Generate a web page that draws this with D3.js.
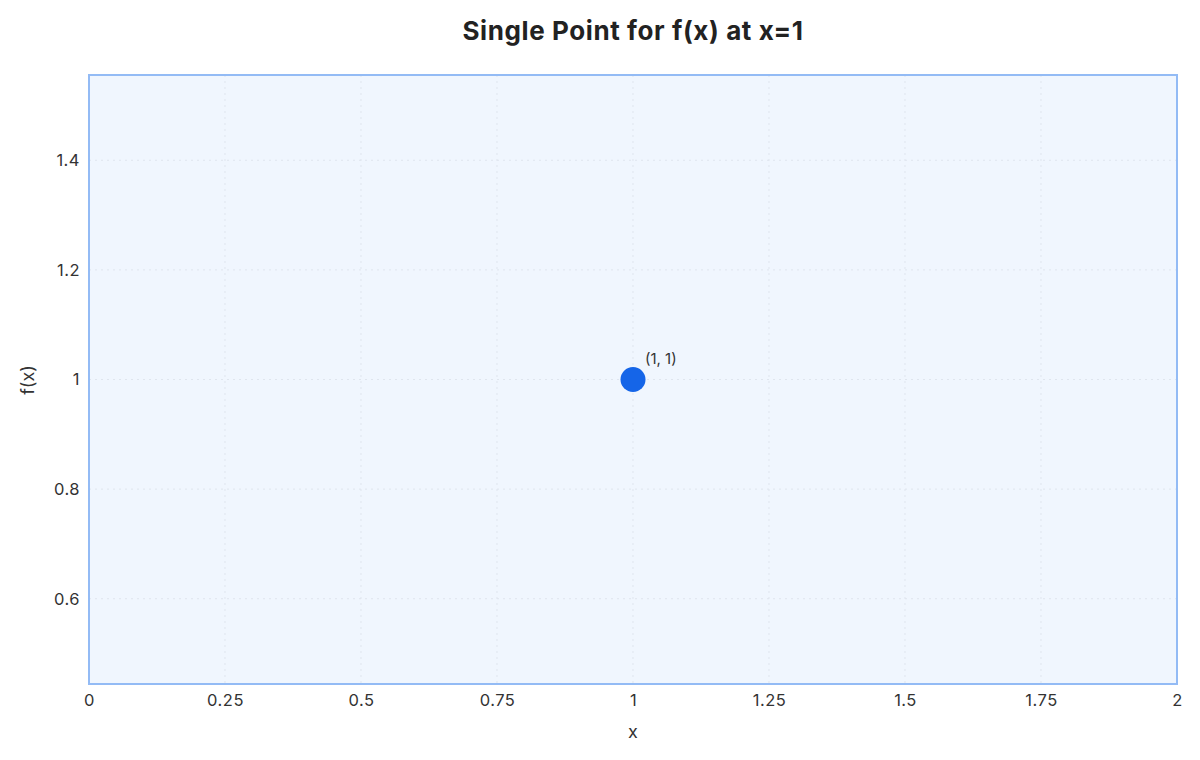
<!DOCTYPE html>
<html><head><meta charset="utf-8">
<script src="https://cdn.jsdelivr.net/npm/d3@7"></script>
<style>body{margin:0;background:#fff;font-family:Inter,"Noto Sans",sans-serif;}</style>
</head><body><svg id="c" width="1200" height="760"></svg>
<script>
const xValues = [1];
const yValues = [1];
const pointLabels = ["(1, 1)"];
const xTicks = [0, 0.25, 0.5, 0.75, 1, 1.25, 1.5, 1.75, 2];
const yTicks = [0.6, 0.8, 1, 1.2, 1.4];
const xDomain = [0, 2];
const yDomain = [0.4444, 1.5556];

const svg = d3.select("#c");
const m = {l: 89, r: 1177, t: 75, b: 684};
const x = d3.scaleLinear().domain(xDomain).range([m.l, m.r]);
const y = d3.scaleLinear().domain(yDomain).range([m.b, m.t]);

svg.append("rect").attr("x", m.l).attr("y", m.t).attr("width", m.r - m.l).attr("height", m.b - m.t)
  .attr("fill", "#f0f6fe");

// grid
const g = svg.append("g");
g.selectAll("line.v").data(xTicks.slice(1, -1)).join("line")
  .attr("x1", d => x(d)).attr("x2", d => x(d)).attr("y1", m.t).attr("y2", m.b)
  .attr("stroke", "#dfe5ee").attr("stroke-dasharray", "2,4").attr("stroke-width", 1);
g.selectAll("line.h").data(yTicks).join("line")
  .attr("y1", d => y(d)).attr("y2", d => y(d)).attr("x1", m.l).attr("x2", m.r)
  .attr("stroke", "#dfe5ee").attr("stroke-dasharray", "2,4").attr("stroke-width", 1);

svg.append("rect").attr("x", m.l).attr("y", m.t).attr("width", m.r - m.l).attr("height", m.b - m.t)
  .attr("fill", "none").attr("stroke", "#93bbf5").attr("stroke-width", 2);

const fmt = d => String(d);
const xAxis = d3.axisBottom(x).tickValues(xTicks).tickFormat(fmt).tickSize(0).tickPadding(10);
const xa = svg.append("g").attr("transform", `translate(0,${m.b})`).call(xAxis);
const yAxis = d3.axisLeft(y).tickValues(yTicks).tickFormat(fmt).tickSize(0).tickPadding(9);
const ya = svg.append("g").attr("transform", `translate(${m.l},0)`).call(yAxis);
[xa, ya].forEach(a => {
  a.select(".domain").remove();
  a.selectAll("text").attr("font-family", "Inter, 'Noto Sans', sans-serif").attr("font-size", 16.5)
    .attr("letter-spacing", 0.5).attr("fill", "#333");
});

svg.selectAll("circle.pt").data(xValues).join("circle")
  .attr("cx", d => x(d)).attr("cy", (d, i) => y(yValues[i])).attr("r", 12.5)
  .attr("fill", "#1565e8");
svg.selectAll("text.pl").data(xValues).join("text")
  .attr("x", d => x(d) + 12).attr("y", (d, i) => y(yValues[i]) - 16)
  .attr("font-size", 15).attr("fill", "#333").text((d, i) => pointLabels[i]);

svg.append("text").attr("x", 633).attr("y", 40).attr("text-anchor", "middle")
  .attr("font-size", 26).attr("letter-spacing", 0.6).attr("font-weight", 700).attr("fill", "#222").text("Single Point for f(x) at x=1");
svg.append("text").attr("x", 633).attr("y", 738).attr("text-anchor", "middle")
  .attr("font-size", 18).attr("fill", "#333").text("x");
svg.append("text").attr("transform", "translate(34,380) rotate(-90)").attr("text-anchor", "middle")
  .attr("font-size", 18).attr("fill", "#333").text("f(x)");
</script></body></html>
